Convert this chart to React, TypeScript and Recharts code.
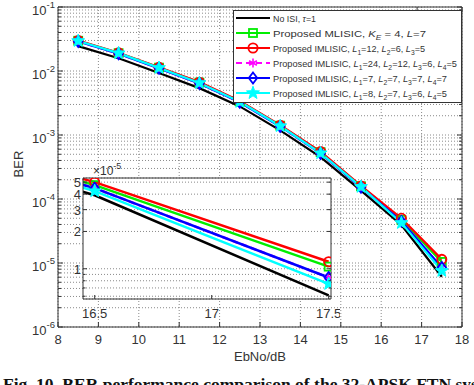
import React from 'react';
import { LineChart, Line, XAxis, YAxis, CartesianGrid, Legend } from 'recharts';

// ---------- data ----------
const ebno = [8.5, 9.5, 10.5, 11.5, 12.5, 13.5, 14.5, 15.5, 16.5, 17.5];
const berNoIsi = [0.0245, 0.0158, 0.0093, 0.0054, 0.0028, 0.00118, 0.00045, 0.000135, 3.92e-5, 6.1e-6];
const berMlisicKe4 = [0.0297, 0.019, 0.0113, 0.0066, 0.00335, 0.0014, 0.00054, 0.000158, 4.73e-5, 1.04e-5];
const berImlisic12_6_5 = [0.03, 0.0192, 0.0114, 0.0067, 0.0034, 0.00142, 0.00055, 0.00016, 5.0e-5, 1.14e-5];
const berImlisic24_12_6_5 = [0.029, 0.0186, 0.011, 0.0064, 0.00325, 0.00136, 0.000515, 0.000152, 4.47e-5, 8.5e-6];
const berImlisic7_7_7_7 = [0.029, 0.0186, 0.011, 0.0064, 0.00325, 0.00136, 0.000515, 0.000152, 4.47e-5, 8.5e-6];
const berImlisic8_7_6_5 = [0.0295, 0.019, 0.0112, 0.0065, 0.0033, 0.00138, 0.00052, 0.000155, 4.23e-5, 7.55e-6];

const xTicks = [8, 9, 10, 11, 12, 13, 14, 15, 16, 17, 18];
const yDecadeTicks = [1e-6, 1e-5, 1e-4, 1e-3, 1e-2, 1e-1];
const yDecadeExponents = ['-6', '-5', '-4', '-3', '-2', '-1'];
const minorMultipliers = [2, 3, 4, 5, 6, 7, 8, 9];

const insetXTicks = [16.5, 17, 17.5];
const insetXLabels = ['16.5', '17', '17.5'];
const insetYTicks = [1e-5, 2e-5, 3e-5, 4e-5, 5e-5];
const insetYLabels = ['1', '2', '3', '4', '5'];
const insetYMinorTicks = [6e-6, 7e-6, 8e-6, 9e-6];

type Seg = { t: string; it?: boolean; sub?: boolean };
const legendLabels: Seg[][] = [
  [{ t: 'No ISI, ' }, { t: 'τ', it: true }, { t: '=1' }],
  [{ t: 'Proposed MLISIC, ' }, { t: 'K', it: true }, { t: 'E', it: true, sub: true }, { t: ' = 4, ' }, { t: 'L', it: true }, { t: '=7' }],
  [{ t: 'Proposed IMLISIC, ' }, { t: 'L', it: true }, { t: '1', sub: true }, { t: '=12, ' }, { t: 'L', it: true }, { t: '2', sub: true }, { t: '=6, ' }, { t: 'L', it: true }, { t: '3', sub: true }, { t: '=5' }],
  [{ t: 'Proposed IMLISIC, ' }, { t: 'L', it: true }, { t: '1', sub: true }, { t: '=24, ' }, { t: 'L', it: true }, { t: '2', sub: true }, { t: '=12, ' }, { t: 'L', it: true }, { t: '3', sub: true }, { t: '=6, ' }, { t: 'L', it: true }, { t: '4', sub: true }, { t: '=5' }],
  [{ t: 'Proposed IMLISIC, ' }, { t: 'L', it: true }, { t: '1', sub: true }, { t: '=7, ' }, { t: 'L', it: true }, { t: '2', sub: true }, { t: '=7, ' }, { t: 'L', it: true }, { t: '3', sub: true }, { t: '=7, ' }, { t: 'L', it: true }, { t: '4', sub: true }, { t: '=7' }],
  [{ t: 'Proposed IMLISIC, ' }, { t: 'L', it: true }, { t: '1', sub: true }, { t: '=8, ' }, { t: 'L', it: true }, { t: '2', sub: true }, { t: '=7, ' }, { t: 'L', it: true }, { t: '3', sub: true }, { t: '=6, ' }, { t: 'L', it: true }, { t: '4', sub: true }, { t: '=5' }],
];

const xLabel = 'EbNo/dB';
const yLabel = 'BER';
const captionText = 'Fig. 10. BER performance comparison of the 32-APSK FTN system';

// ---------- styles ----------
const series = [
  { key: 'noIsi', data: berNoIsi, color: '#000000', marker: 'none', dash: undefined as string | undefined },
  { key: 'mlisic', data: berMlisicKe4, color: '#00ee00', marker: 'square', dash: undefined },
  { key: 'im1', data: berImlisic12_6_5, color: '#ff0000', marker: 'circle', dash: undefined },
  { key: 'im2', data: berImlisic24_12_6_5, color: '#ff00ff', marker: 'asterisk', dash: '6 4' },
  { key: 'im3', data: berImlisic7_7_7_7, color: '#0000ff', marker: 'diamond', dash: undefined },
  { key: 'im4', data: berImlisic8_7_6_5, color: '#00ffff', marker: 'star', dash: undefined },
];
const legendTextWidths = [43, 153, 152, 184, 174, 174];

const FONT = '"Liberation Sans", Arial, sans-serif';
const AX = '#333333';
const GRID = '#8a8a8a';

const chartData = ebno.map((x, i) => {
  const row: any = { x };
  series.forEach((s) => (row[s.key] = s.data[i]));
  return row;
});
const insetData = chartData.filter((r) => r.x >= 15.5);

const mainYTicks: number[] = [];
yDecadeTicks.forEach((d, i) => {
  mainYTicks.push(d);
  if (i < yDecadeTicks.length - 1) minorMultipliers.forEach((m) => mainYTicks.push(m * d));
});
const insetYAll = [...insetYMinorTicks, ...insetYTicks];

// ---------- markers ----------
function starPoints(cx: number, cy: number, ro: number, ri: number) {
  const pts: string[] = [];
  for (let k = 0; k < 10; k++) {
    const r = k % 2 === 0 ? ro : ri;
    const a = -Math.PI / 2 + (k * Math.PI) / 5;
    pts.push(`${cx + r * Math.cos(a)},${cy + r * Math.sin(a)}`);
  }
  return pts.join(' ');
}

function Marker({ kind, cx, cy, color }: { kind: string; cx: number; cy: number; color: string }) {
  switch (kind) {
    case 'square':
      return <rect x={cx - 4} y={cy - 4} width={8} height={8} fill="none" stroke={color} strokeWidth={1.8} />;
    case 'circle':
      return <circle cx={cx} cy={cy} r={4.6} fill="none" stroke={color} strokeWidth={1.8} />;
    case 'asterisk':
      return (
        <g stroke={color} strokeWidth={1.6}>
          <line x1={cx} y1={cy - 4.5} x2={cx} y2={cy + 4.5} />
          <line x1={cx - 3.9} y1={cy - 2.3} x2={cx + 3.9} y2={cy + 2.3} />
          <line x1={cx - 3.9} y1={cy + 2.3} x2={cx + 3.9} y2={cy - 2.3} />
        </g>
      );
    case 'diamond':
      return (
        <polygon
          points={`${cx},${cy - 5.5} ${cx + 4.2},${cy} ${cx},${cy + 5.5} ${cx - 4.2},${cy}`}
          fill="none"
          stroke={color}
          strokeWidth={1.8}
        />
      );
    case 'star':
      return <polygon points={starPoints(cx, cy, 6.8, 2.8)} fill={color} stroke={color} strokeWidth={1} />;
    default:
      return null;
  }
}

const makeDot = (s: (typeof series)[number], minX: number) => (p: any) => {
  const key = `${s.key}-${p.index}`;
  if (s.marker === 'none' || p.cx == null || p.cy == null || p.payload.x < minX) return <g key={key} />;
  return (
    <g key={key}>
      <Marker kind={s.marker} cx={p.cx} cy={p.cy} color={s.color} />
    </g>
  );
};

// ---------- main axis ticks ----------
const MainLeftTick = (props: any) => {
  const { x, y, payload } = props;
  const ax = x;
  const idx = yDecadeTicks.indexOf(payload.value);
  const major = idx >= 0;
  return (
    <g>
      <line x1={ax} x2={ax + (major ? 5 : 3)} y1={y} y2={y} stroke={AX} />
      {major && (
        <text x={ax - 3} y={y + 7.5} textAnchor="end" fontSize={13} fill={AX} fontFamily={FONT}>
          10
          <tspan dy={-6.5} fontSize={9.5}>
            {yDecadeExponents[idx]}
          </tspan>
        </text>
      )}
    </g>
  );
};

const MainRightTick = (props: any) => {
  const { x, y, payload } = props;
  const major = yDecadeTicks.indexOf(payload.value) >= 0;
  return <line x1={x} x2={x - (major ? 5 : 3)} y1={y} y2={y} stroke={AX} />;
};

const MainBottomTick = (props: any) => {
  const { x, y, payload } = props;
  return (
    <g>
      <line x1={x} x2={x} y1={y} y2={y - 5} stroke={AX} />
      <text x={x} y={y + 17} textAnchor="middle" fontSize={13} fill={AX} fontFamily={FONT}>
        {payload.value}
      </text>
    </g>
  );
};

const MainTopTick = (props: any) => {
  const { x, y } = props;
  return <line x1={x} x2={x} y1={y} y2={y + 5} stroke={AX} />;
};

// ---------- inset ticks ----------
const InsetLeftTick = (props: any) => {
  const { x, y, payload } = props;
  const idx = insetYTicks.indexOf(payload.value);
  const major = idx >= 0;
  return (
    <g>
      <line x1={x} x2={x + (major ? 4 : 2.5)} y1={y} y2={y} stroke={AX} />
      {major && (
        <text x={x - 2} y={y + 5} textAnchor="end" fontSize={13} fill={AX} fontFamily={FONT}>
          {insetYLabels[idx]}
        </text>
      )}
    </g>
  );
};
const InsetRightTick = (props: any) => {
  const { x, y, payload } = props;
  const major = insetYTicks.indexOf(payload.value) >= 0;
  return <line x1={x} x2={x - (major ? 4 : 2.5)} y1={y} y2={y} stroke={AX} />;
};
const InsetBottomTick = (props: any) => {
  const { x, y, payload } = props;
  const idx = insetXTicks.indexOf(payload.value);
  return (
    <g>
      <line x1={x} x2={x} y1={y} y2={y - 4} stroke={AX} />
      <text x={x} y={y + 19} textAnchor="middle" fontSize={13} fill={AX} fontFamily={FONT}>
        {insetXLabels[idx]}
      </text>
    </g>
  );
};
const InsetTopTick = (props: any) => {
  const { x, y } = props;
  return <line x1={x} x2={x} y1={y} y2={y + 4} stroke={AX} />;
};

// ---------- legend ----------
const LegendBox = () => (
  <svg width={229} height={94} style={{ display: 'block' }}>
    <rect x={0.5} y={0.5} width={228} height={92} fill="#ffffff" stroke={AX} />
    {series.map((s, i) => {
      const cy = 8 + i * 15;
      return (
        <g key={s.key}>
          <line x1={3} x2={37} y1={cy} y2={cy} stroke={s.color} strokeWidth={2} strokeDasharray={s.dash} />
          <Marker kind={s.marker} cx={20} cy={cy} color={s.color} />
          <text
            x={40}
            y={cy + 3.5}
            fontSize={9.5}
            fill="#333"
            fontFamily={FONT}
            textLength={legendTextWidths[i]}
            lengthAdjust="spacingAndGlyphs"
          >
            {legendLabels[i].map((seg, j) => {
              const prevSub = j > 0 && legendLabels[i][j - 1].sub;
              const dy = seg.sub ? 3 : prevSub ? -3 : 0;
              return (
                <tspan key={j} dy={dy} fontStyle={seg.it ? 'italic' : 'normal'} fontSize={seg.sub ? 7 : 9.5}>
                  {seg.t}
                </tspan>
              );
            })}
          </text>
        </g>
      );
    })}
  </svg>
);

export default function App() {
  return (
    <div style={{ position: 'absolute', left: 0, top: 0, width: 474, height: 385, overflow: 'hidden', background: '#fff' }}>
      <div style={{ position: 'absolute', left: 0, top: 0 }}>
        <LineChart width={474} height={385} data={chartData} margin={{ top: 6, right: 11, bottom: 0, left: 0 }}>
          <CartesianGrid stroke={GRID} strokeDasharray="1 2" />
          <XAxis
            dataKey="x"
            type="number"
            domain={[8, 18]}
            ticks={xTicks}
            allowDataOverflow
            height={58}
            tickSize={0}
            tickMargin={0}
            tickLine={false}
            axisLine={{ stroke: AX }}
            tick={<MainBottomTick />}
            interval={0}
            label={{
              content: (p: any) => (
                <text
                  x={p.viewBox.x + p.viewBox.width / 2}
                  y={p.viewBox.y + 34}
                  textAnchor="middle"
                  fontSize={13}
                  fill={AX}
                  fontFamily={FONT}
                >
                  {xLabel}
                </text>
              ),
            }}
          />
          <XAxis
            xAxisId="top"
            orientation="top"
            type="number"
            domain={[8, 18]}
            ticks={xTicks}
            allowDataOverflow
            height={1}
            tickSize={0}
            tickMargin={0}
            tickLine={false}
            axisLine={{ stroke: AX }}
            tick={<MainTopTick />}
            interval={0}
          />
          <YAxis
            type="number"
            scale="log"
            domain={[1e-6, 1e-1]}
            ticks={mainYTicks}
            allowDataOverflow
            width={58}
            tickSize={0}
            tickMargin={0}
            tickLine={false}
            axisLine={{ stroke: AX }}
            tick={<MainLeftTick />}
            interval={0}
            label={{
              content: (p: any) => {
                const cx = p.viewBox.x + 23;
                const cy = p.viewBox.y + p.viewBox.height / 2 - 3;
                return (
                  <text
                    x={cx}
                    y={cy}
                    transform={`rotate(-90, ${cx}, ${cy})`}
                    textAnchor="middle"
                    fontSize={13}
                    fill={AX}
                    fontFamily={FONT}
                  >
                    {yLabel}
                  </text>
                );
              },
            }}
          />
          <YAxis
            yAxisId="right"
            orientation="right"
            type="number"
            scale="log"
            domain={[1e-6, 1e-1]}
            ticks={mainYTicks}
            allowDataOverflow
            width={1}
            tickSize={0}
            tickMargin={0}
            tickLine={false}
            axisLine={{ stroke: AX }}
            tick={<MainRightTick />}
            interval={0}
          />
          {series.map((s) => (
            <Line
              key={s.key}
              dataKey={s.key}
              type="linear"
              stroke={s.color}
              strokeWidth={2.2}
              strokeDasharray={s.dash}
              dot={makeDot(s, 0)}
              activeDot={false}
              isAnimationActive={false}
            />
          ))}
          <Legend
            layout="horizontal"
            verticalAlign="middle"
            align="center"
            wrapperStyle={{ left: 233, top: 10, width: 229, height: 94 }}
            content={() => <LegendBox />}
          />
        </LineChart>
      </div>

      <div style={{ position: 'absolute', left: 58, top: 160 }}>
        <LineChart width={282} height={170} data={insetData} margin={{ top: 17, right: 8, bottom: 0, left: 0 }}>
          <CartesianGrid stroke={GRID} strokeDasharray="1 2" vertical={false} fill="#ffffff" />
          <XAxis
            dataKey="x"
            type="number"
            domain={[16.45, 17.51]}
            ticks={insetXTicks}
            allowDataOverflow
            height={31}
            tickSize={0}
            tickMargin={0}
            tickLine={false}
            axisLine={{ stroke: AX }}
            tick={<InsetBottomTick />}
            interval={0}
          />
          <XAxis
            xAxisId="top"
            orientation="top"
            type="number"
            domain={[16.45, 17.51]}
            ticks={insetXTicks}
            allowDataOverflow
            height={1}
            tickSize={0}
            tickMargin={0}
            tickLine={false}
            axisLine={{ stroke: AX }}
            tick={<InsetTopTick />}
            interval={0}
          />
          <YAxis
            type="number"
            scale="log"
            domain={[5.7e-6, 5.4e-5]}
            ticks={insetYAll}
            allowDataOverflow
            width={25}
            tickSize={0}
            tickMargin={0}
            tickLine={false}
            axisLine={{ stroke: AX }}
            tick={<InsetLeftTick />}
            interval={0}
            label={{
              content: (p: any) => (
                <text x={p.viewBox.x + p.viewBox.width + 10} y={p.viewBox.y - 3} fontSize={12} fill={AX} fontFamily={FONT}>
                  ×10
                  <tspan dy={-6} fontSize={9}>
                    -5
                  </tspan>
                </text>
              ),
            }}
          />
          <YAxis
            yAxisId="right"
            orientation="right"
            type="number"
            scale="log"
            domain={[5.7e-6, 5.4e-5]}
            ticks={insetYAll}
            allowDataOverflow
            width={1}
            tickSize={0}
            tickMargin={0}
            tickLine={false}
            axisLine={{ stroke: AX }}
            tick={<InsetRightTick />}
            interval={0}
          />
          {series.map((s) => (
            <Line
              key={s.key}
              dataKey={s.key}
              type="linear"
              stroke={s.color}
              strokeWidth={2.5}
              strokeDasharray={s.dash}
              dot={makeDot(s, 16.5)}
              activeDot={false}
              isAnimationActive={false}
            />
          ))}
        </LineChart>
      </div>

      <svg width={474} height={385} style={{ position: 'absolute', left: 0, top: 0, pointerEvents: 'none' }}>
        <text x={3} y={390} fontSize={17.5} fontWeight="bold" fill="#111" fontFamily='"Liberation Serif", "Times New Roman", serif'>
          {captionText}
        </text>
      </svg>
    </div>
  );
}
